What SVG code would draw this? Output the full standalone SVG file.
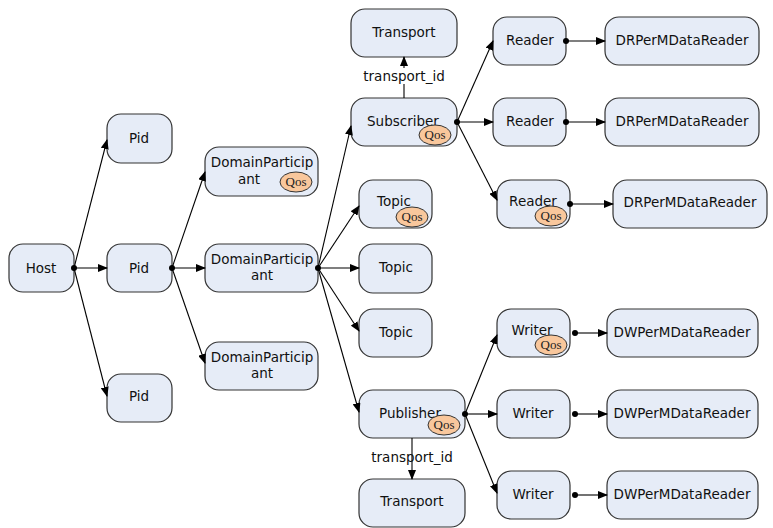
<svg xmlns="http://www.w3.org/2000/svg" width="773" height="528" viewBox="0 0 773 528">
<style>
.n{fill:#E6ECF7;stroke:#333;stroke-width:1.2}
.t{font-family:"DejaVu Sans","Liberation Sans",sans-serif;font-size:13.5px;fill:#111;text-anchor:middle}
.q{fill:#F9C79C;stroke:#333;stroke-width:1}
.qt{font-family:"Liberation Serif","DejaVu Serif",serif;font-size:13px;fill:#222;text-anchor:middle}
.c line{stroke:#000;stroke-width:1.1;marker-end:url(#a)}
.c circle{fill:#000}
</style>
<defs><marker id="a" markerWidth="10" markerHeight="8" refX="9" refY="4" orient="auto" markerUnits="userSpaceOnUse"><path d="M0,0L10,4L0,8z" fill="#000"/></marker></defs>
<rect width="773" height="528" fill="#fff"/>
<g id="host"><rect class="n" x="9" y="244" width="65" height="48" rx="14"/><text class="t" x="41" y="273">Host</text></g>
<g id="pid1"><rect class="n" x="107" y="114" width="65" height="49" rx="14"/><text class="t" x="139" y="143">Pid</text></g>
<g id="pid2"><rect class="n" x="107" y="244" width="65" height="48" rx="14"/><text class="t" x="139" y="273">Pid</text></g>
<g id="pid3"><rect class="n" x="107" y="374" width="65" height="48" rx="14"/><text class="t" x="139" y="401">Pid</text></g>
<g id="dp1"><rect class="n" x="205" y="147" width="113" height="49" rx="14"/><text class="t" x="262" y="167">DomainParticip</text><text class="t" x="249" y="184">ant</text><ellipse class="q" cx="296" cy="182" rx="16" ry="10"/><text class="qt" x="296" y="186">Qos</text></g>
<g id="dp2"><rect class="n" x="205" y="244" width="113" height="48" rx="14"/><text class="t" x="262" y="264">DomainParticip</text><text class="t" x="262" y="280">ant</text></g>
<g id="dp3"><rect class="n" x="205" y="342" width="113" height="48" rx="14"/><text class="t" x="262" y="362">DomainParticip</text><text class="t" x="262" y="378">ant</text></g>
<g id="transport1"><rect class="n" x="351" y="9" width="106" height="48" rx="14"/><text class="t" x="404" y="37">Transport</text></g>
<g id="subscriber"><rect class="n" x="351" y="98" width="106" height="48" rx="14"/><text class="t" x="403" y="126">Subscriber</text><ellipse class="q" cx="435" cy="135" rx="16" ry="10"/><text class="qt" x="435" y="139">Qos</text></g>
<g id="topic1"><rect class="n" x="359" y="180" width="73" height="48" rx="14"/><text class="t" x="394" y="206">Topic</text><ellipse class="q" cx="412" cy="217" rx="16" ry="10"/><text class="qt" x="412" y="221">Qos</text></g>
<g id="topic2"><rect class="n" x="359" y="244" width="73" height="49" rx="14"/><text class="t" x="396" y="272">Topic</text></g>
<g id="topic3"><rect class="n" x="359" y="309" width="73" height="48" rx="14"/><text class="t" x="396" y="337">Topic</text></g>
<g id="publisher"><rect class="n" x="359" y="390" width="106" height="48" rx="14"/><text class="t" x="410" y="418">Publisher</text><ellipse class="q" cx="444" cy="425" rx="16" ry="10"/><text class="qt" x="444" y="429">Qos</text></g>
<g id="transport2"><rect class="n" x="359" y="479" width="106" height="48" rx="14"/><text class="t" x="412" y="506">Transport</text></g>
<g id="reader1"><rect class="n" x="493" y="17" width="73" height="48" rx="14"/><text class="t" x="530" y="45">Reader</text></g>
<g id="reader2"><rect class="n" x="493" y="98" width="73" height="48" rx="14"/><text class="t" x="530" y="126">Reader</text></g>
<g id="reader3"><rect class="n" x="497" y="180" width="73" height="48" rx="14"/><text class="t" x="533" y="206">Reader</text><ellipse class="q" cx="551" cy="216" rx="16" ry="10"/><text class="qt" x="551" y="220">Qos</text></g>
<g id="dr1"><rect class="n" x="605" y="17" width="154" height="48" rx="14"/><text class="t" x="682" y="45">DRPerMDataReader</text></g>
<g id="dr2"><rect class="n" x="605" y="98" width="154" height="48" rx="14"/><text class="t" x="682" y="126">DRPerMDataReader</text></g>
<g id="dr3"><rect class="n" x="613" y="180" width="154" height="48" rx="14"/><text class="t" x="690" y="207">DRPerMDataReader</text></g>
<g id="writer1"><rect class="n" x="497" y="309" width="73" height="48" rx="14"/><text class="t" x="532" y="335">Writer</text><ellipse class="q" cx="551" cy="345" rx="16" ry="10"/><text class="qt" x="551" y="349">Qos</text></g>
<g id="writer2"><rect class="n" x="497" y="390" width="73" height="48" rx="14"/><text class="t" x="533" y="418">Writer</text></g>
<g id="writer3"><rect class="n" x="497" y="471" width="73" height="48" rx="14"/><text class="t" x="533" y="499">Writer</text></g>
<g id="dw1"><rect class="n" x="607" y="309" width="151" height="48" rx="14"/><text class="t" x="682" y="337">DWPerMDataReader</text></g>
<g id="dw2"><rect class="n" x="607" y="390" width="151" height="48" rx="14"/><text class="t" x="682" y="418">DWPerMDataReader</text></g>
<g id="dw3"><rect class="n" x="607" y="471" width="151" height="48" rx="14"/><text class="t" x="682" y="499">DWPerMDataReader</text></g>
<g id="connectors" class="c">
<line x1="74" y1="268" x2="107" y2="140"/><line x1="74" y1="268" x2="107" y2="268"/><line x1="74" y1="268" x2="107" y2="396"/>
<line x1="172" y1="268" x2="205" y2="172"/><line x1="172" y1="268" x2="205" y2="268"/><line x1="172" y1="268" x2="205" y2="363"/>
<line x1="318" y1="268" x2="351" y2="126"/><line x1="318" y1="268" x2="359" y2="206"/><line x1="318" y1="268" x2="359" y2="268"/><line x1="318" y1="268" x2="359" y2="331"/><line x1="318" y1="268" x2="359" y2="412"/>
<line x1="457" y1="122" x2="493" y2="41"/><line x1="457" y1="122" x2="493" y2="122"/><line x1="457" y1="122" x2="497" y2="200"/>
<line x1="465" y1="414" x2="497" y2="335"/><line x1="465" y1="414" x2="497" y2="414"/><line x1="465" y1="414" x2="497" y2="493"/>
<line x1="566" y1="41" x2="605" y2="41"/><line x1="566" y1="122" x2="605" y2="122"/><line x1="570" y1="204" x2="613" y2="204"/>
<line x1="575" y1="333" x2="607" y2="333"/><line x1="575" y1="414" x2="607" y2="414"/><line x1="575" y1="495" x2="607" y2="495"/>
<line x1="404" y1="98" x2="404" y2="57"/><line x1="412" y1="438" x2="412" y2="479"/>
<circle cx="74" cy="268" r="3"/><circle cx="172" cy="268" r="3"/><circle cx="318" cy="268" r="3"/><circle cx="457" cy="122" r="3"/><circle cx="465" cy="414" r="3"/>
<circle cx="566" cy="41" r="3"/><circle cx="566" cy="122" r="3"/><circle cx="570" cy="204" r="3"/><circle cx="575" cy="333" r="3"/><circle cx="575" cy="414" r="3"/><circle cx="575" cy="495" r="3"/>
</g>
<rect x="362" y="68" width="84" height="16" fill="#fff"/>
<text class="t" x="404" y="81">transport_id</text>
<text class="t" x="412" y="462">transport_id</text>
</svg>
